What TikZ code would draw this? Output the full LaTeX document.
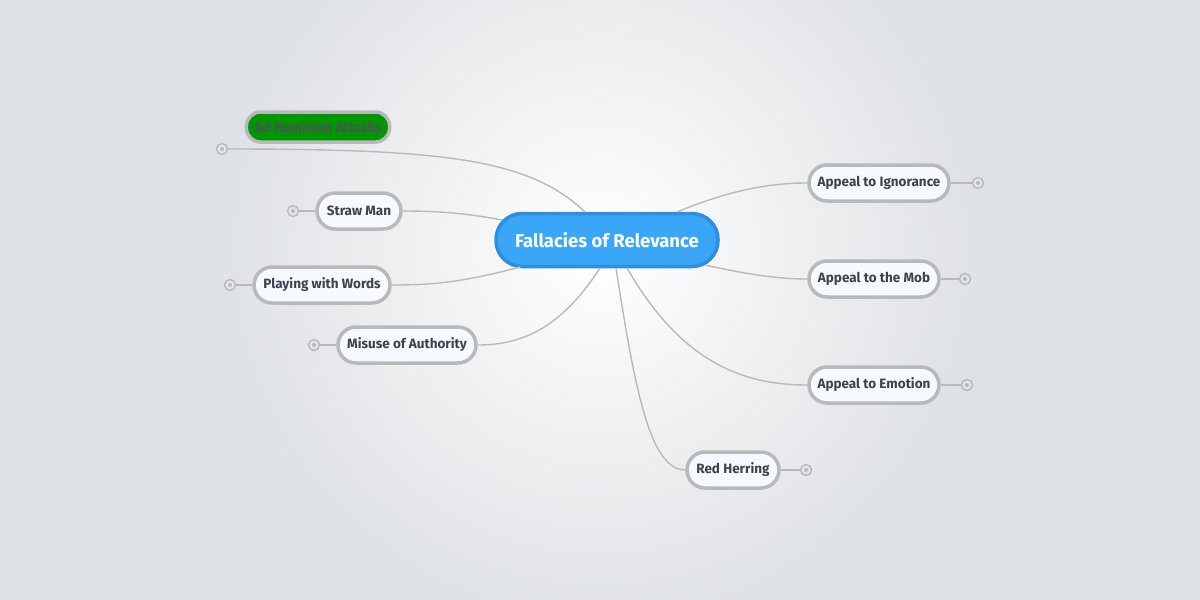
\documentclass[tikz,border=0pt]{standalone}
\usepackage{fontspec}
\setmainfont{Fira Sans}
\begin{document}
\begin{tikzpicture}[x=1pt,y=-1pt,
  child/.style={draw=gray!55,line width=3.5pt,rounded corners=18pt,fill={rgb,255:red,246;green,249;blue,253},
    minimum height=36pt,inner xsep=8pt,font=\fontsize{13.5}{15}\selectfont\bfseries,text={rgb,255:red,60;green,66;blue,78}},
  conn/.style={draw=gray!55,line width=1.4pt},
  dot/.style={circle,draw=gray!55,line width=1.4pt,minimum size=11pt,inner sep=0pt,fill={rgb,255:red,225;green,228;blue,232}},
  dotc/.style={circle,fill=gray!55,minimum size=4pt,inner sep=0pt}]
\definecolor{bg}{RGB}{221,224,228}
\useasboundingbox (0,0) rectangle (1200,600);
\fill[bg] (0,0) rectangle (1200,600);
\shade[inner color=white,outer color=bg] (200,-150) rectangle (1000,650);
\fill[bg,even odd rule] (-10,-10) rectangle (1210,610) (200,-150) rectangle (1000,650);
% root
\node[draw={rgb,255:red,47;green,142;blue,224},line width=3.5pt,fill={rgb,255:red,58;green,166;blue,248},rounded corners=26pt,
  minimum width=222pt,minimum height=53pt,text=white,font=\fontsize{18.5}{20}\selectfont\bfseries] (root) at (607,240) {Fallacies of Relevance};
% children
\node[child,fill={rgb,255:red,0;green,150;blue,0},rounded corners=14pt,minimum height=30pt,text={rgb,255:red,80;green,80;blue,90},minimum width=140pt] (ah) at (318,127) {Ad Hominem Attacks};
\node[child,minimum width=84pt] (sm) at (359,211) {Straw Man};
\node[child,minimum width=136pt] (pw) at (322,285) {Playing with Words};
\node[child,minimum width=138pt] (ma) at (407,345) {Misuse of Authority};
\node[child,minimum width=140pt] (ai) at (879,183) {Appeal to Ignorance};
\node[child,minimum width=130pt] (am) at (874,279) {Appeal to the Mob};
\node[child,minimum width=130pt] (ae) at (874,385) {Appeal to Emotion};
\node[child,minimum width=92pt] (rh) at (733,470) {Red Herring};
% dots
\foreach \n/\x/\y in {dah/222/149,dsm/293/211,dpw/230/285,dma/314/345,dai/978/183,dam/965/279,dae/967/385,drh/806/470}{
  \node[dot] (\n) at (\x,\y) {}; \node[dotc] at (\x,\y) {};}
% root anchors
\coordinate (r1) at (585,212); \coordinate (r2) at (502,220); \coordinate (r3) at (520,267);
\coordinate (r4) at (600,268); \coordinate (r5) at (677,212); \coordinate (r6) at (705,265);
\coordinate (r7) at (627,268); \coordinate (r8) at (616,268);
\draw[conn] (r1) .. controls (530,160) and (450,149) .. (dah.east);
\draw[conn] (r2) .. controls (460,212) and (430,211) .. (sm.east);
\draw[conn] (r3) .. controls (460,283) and (430,285) .. (pw.east);
\draw[conn] (r4) .. controls (560,330) and (520,345) .. (ma.east);
\draw[conn] (r5) .. controls (730,190) and (770,183) .. (ai.west);
\draw[conn] (r6) .. controls (750,275) and (780,279) .. (am.west);
\draw[conn] (r7) .. controls (680,360) and (740,385) .. (ae.west);
\draw[conn] (r8) .. controls (635,390) and (650,470) .. (rh.west);
\draw[conn] (sm.west) -- (dsm.east); \draw[conn] (pw.west) -- (dpw.east);
\draw[conn] (ma.west) -- (dma.east); \draw[conn] (ai.east) -- (dai.west);
\draw[conn] (am.east) -- (dam.west); \draw[conn] (ae.east) -- (dae.west);
\draw[conn] (rh.east) -- (drh.west);
\end{tikzpicture}
\end{document}
